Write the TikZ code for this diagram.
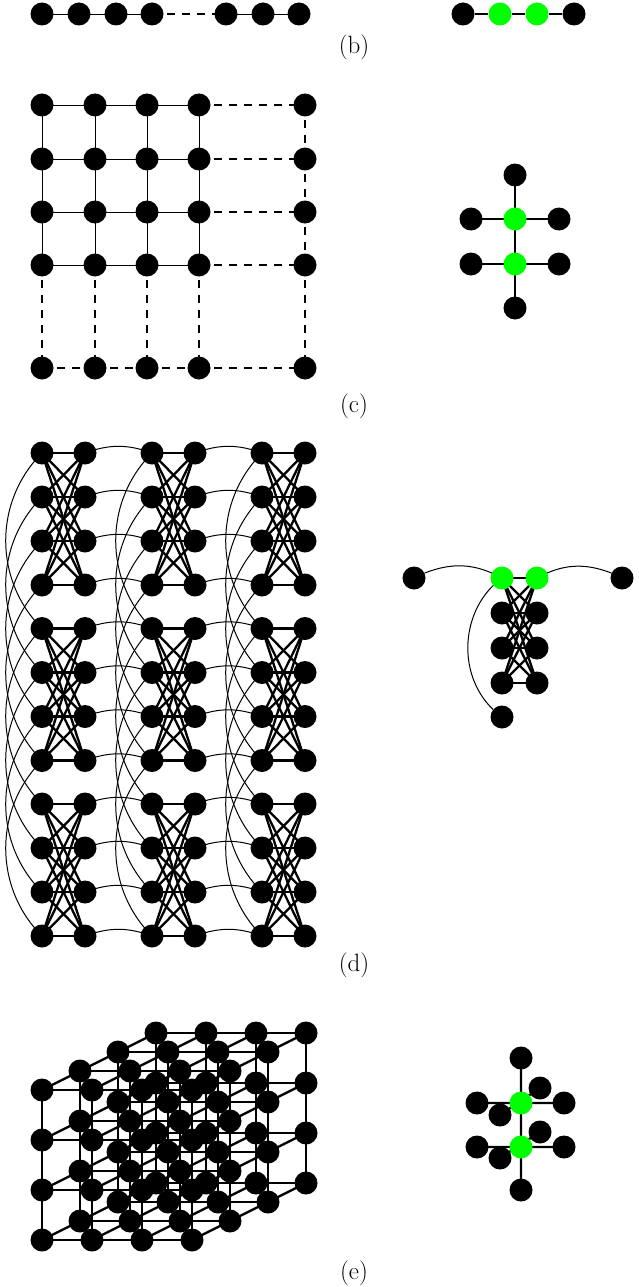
\documentclass[tikz,border=0pt]{standalone}
\begin{document}
\begin{tikzpicture}[x=1pt,y=1pt,
  v/.style={circle,fill=black,inner sep=0pt,minimum size=23pt},
  g/.style={circle,fill=green,inner sep=0pt,minimum size=23pt},
  thinE/.style={line width=0.8pt},
  thickE/.style={line width=2.3pt},
  dashE/.style={line width=2.2pt,dash pattern=on 8pt off 7pt},
  arcE/.style={line width=1pt},
  lab/.style={font=\fontsize{25}{30}\selectfont}]
\useasboundingbox (0,0) rectangle (638,-1287);
% ---------- (b)
\foreach \x [count=\i] in {42,79,116,152,226,263,299} \coordinate (b\i) at (\x,-14);
\foreach \a/\b in {1/2,2/3,3/4,5/6,6/7} \draw[thinE] (b\a)--(b\b);
\draw[dashE] (b4)--(b5);
\foreach \i in {1,...,7} \node[v] (nb\i) at (b\i) {};
\node[v] (br1) at (463,-14) {}; \node[g] (br2) at (500,-14) {};
\node[g] (br3) at (537,-14) {}; \node[v] (br4) at (574,-14) {};
\draw[thickE] (br1)--(br2) (br2)--(br3) (br3)--(br4);
\node[lab] (lb) at (354,-47) {(b)};
% ---------- (c)
\foreach \x [count=\i] in {42,95,147,199,305}
  \foreach \y [count=\j] in {105,159,212,265,368}
    \coordinate (c\i-\j) at (\x,-\y);
\foreach \i in {1,...,4} \foreach \j in {1,...,4} {
  \ifnum\i<4 \pgfmathtruncatemacro\ii{\i+1}\draw[thinE] (c\i-\j)--(c\ii-\j);\fi
  \ifnum\j<4 \pgfmathtruncatemacro\jj{\j+1}\draw[thinE] (c\i-\j)--(c\i-\jj);\fi }
\foreach \j in {1,...,4} \draw[dashE] (c4-\j)--(c5-\j);
\foreach \i in {1,...,4} \draw[dashE] (c\i-4)--(c\i-5);
\foreach \j [evaluate=\j as \jj using int(\j+1)] in {1,...,4} \draw[dashE] (c5-\j)--(c5-\jj);
\foreach \i [evaluate=\i as \ii using int(\i+1)] in {1,...,4} \draw[dashE] (c\i-5)--(c\ii-5);
\foreach \i in {1,...,5} \foreach \j in {1,...,5} \node[v] (nc\i-\j) at (c\i-\j) {};
\coordinate (cr1) at (515,-219); \coordinate (cr2) at (515,-264);
\draw[thickE] (515,-175)--(515,-308) (471,-219)--(559,-219) (471,-264)--(559,-264);
\node[v] (ct) at (515,-175) {}; \node[v] (cb) at (515,-308) {};
\node[v] (cl1) at (471,-219) {}; \node[v] (cq1) at (559,-219) {};
\node[v] (cl2) at (471,-264) {}; \node[v] (cq2) at (559,-264) {};
\node[g] (cg1) at (cr1) {}; \node[g] (cg2) at (cr2) {};
\node[lab] (lc) at (354,-406) {(c)};
% ---------- (d)
\foreach \c/\cx in {0/42,1/152,2/262}
  \foreach \r/\ry in {0/453,1/628.5,2/804}
    \foreach \k in {0,...,3} {
      \coordinate (dL\c-\r-\k) at (\cx,-\ry-44*\k);
      \coordinate (dR\c-\r-\k) at (\cx+43,-\ry-44*\k);}
\foreach \c in {0,1,2} \foreach \r in {0,1,2}
  \foreach \k in {0,...,3} \foreach \m in {0,...,3}
    \draw[thickE] (dL\c-\r-\k)--(dR\c-\r-\m);
\foreach \c/\cc in {0/1,1/2} \foreach \r in {0,1,2} \foreach \k in {0,...,3}
  \draw[arcE] (dR\c-\r-\k) to[bend left=20] (dL\cc-\r-\k);
\foreach \c in {0,1,2} \foreach \r/\rr in {0/1,1/2} \foreach \k in {0,...,3}
  \draw[arcE] (dL\c-\r-\k) to[bend right=45] (dL\c-\rr-\k);
\foreach \c in {0,1,2} \foreach \r in {0,1,2} \foreach \k in {0,...,3} {
  \node[v] (ndL\c-\r-\k) at (dL\c-\r-\k) {};
  \node[v] (ndR\c-\r-\k) at (dR\c-\r-\k) {};}
\foreach \k/\y in {0/578,1/613,2/648,3/683} {
  \coordinate (pL\k) at (502,-\y); \coordinate (pR\k) at (537,-\y);}
\foreach \k in {0,...,3} \foreach \m in {0,...,3} \draw[thickE] (pL\k)--(pR\m);
\node[v] (pw) at (414,-578) {}; \node[v] (pe) at (622,-578) {};
\node[v] (ps) at (502,-717) {};
\draw[arcE] (pL0) to[bend right=25] (pw);
\draw[arcE] (pR0) to[bend left=25] (pe);
\draw[arcE] (pL0) to[bend right=50] (ps);
\foreach \k in {1,2,3} {\node[v] (npL\k) at (pL\k) {}; \node[v] (npR\k) at (pR\k) {};}
\node[g] (npL0) at (pL0) {}; \node[g] (npR0) at (pR0) {};
\node[lab] (ld) at (354,-965) {(d)};
% ---------- (e)
\foreach \i in {0,...,3} \foreach \j in {0,...,3} \foreach \k in {0,...,3}
  \coordinate (e\i-\j-\k) at (42+50*\i+38*\k, -1240+50*\j+19*\k);
\foreach \i in {0,...,3} \foreach \j in {0,...,3} \foreach \k in {0,...,3} {
  \ifnum\i<3 \pgfmathtruncatemacro\ii{\i+1}\draw[thickE] (e\i-\j-\k)--(e\ii-\j-\k);\fi
  \ifnum\j<3 \pgfmathtruncatemacro\jj{\j+1}\draw[thickE] (e\i-\j-\k)--(e\i-\jj-\k);\fi
  \ifnum\k<3 \pgfmathtruncatemacro\kk{\k+1}\draw[thickE] (e\i-\j-\k)--(e\i-\j-\kk);\fi }
\foreach \k in {3,2,1,0} \foreach \i in {0,...,3} \foreach \j in {0,...,3}
  \node[v] (ne\i-\j-\k) at (e\i-\j-\k) {};
\coordinate (q1) at (521,-1103); \coordinate (q2) at (521,-1147);
\draw[thickE] (521,-1058)--(521,-1190) (477,-1103)--(564,-1103) (477,-1147)--(564,-1147)
  (540,-1088)--(500,-1115) (540,-1132)--(500,-1158);
\node[v] (qt) at (521,-1058) {}; \node[v] (qb) at (521,-1190) {};
\node[v] (ql1) at (477,-1103) {}; \node[v] (qr1) at (564,-1103) {};
\node[v] (ql2) at (477,-1147) {}; \node[v] (qr2) at (564,-1147) {};
\node[v] (qk1) at (540,-1088) {}; \node[v] (qk2) at (540,-1132) {};
\node[g] (qg1) at (q1) {}; \node[g] (qg2) at (q2) {};
\node[v] (qf1) at (500,-1115) {}; \node[v] (qf2) at (500,-1158) {};
\node[lab] (le) at (354,-1273) {(e)};
\end{tikzpicture}
\end{document}
